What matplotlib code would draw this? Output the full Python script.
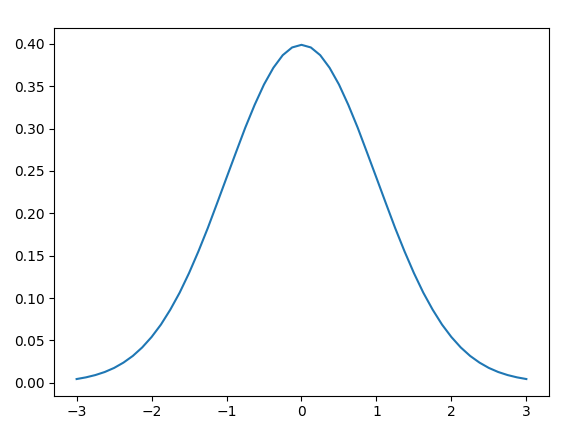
import matplotlib
matplotlib.use("Agg")
import matplotlib.pyplot as plt

x_vals = [i * 0.125 - 3 for i in range(49)]
half = [0.3989, 0.3958, 0.3867, 0.3718, 0.3521, 0.3280, 0.3011, 0.2717, 0.2420,
        0.2121, 0.1826, 0.1551, 0.1295, 0.1064, 0.0863, 0.0687, 0.0540, 0.0417,
        0.0317, 0.0238, 0.0175, 0.0127, 0.0091, 0.0064, 0.0044]
y_vals = half[::-1] + half[1:]

fig, ax = plt.subplots(figsize=(5.82, 4.26), dpi=100)
fig.subplots_adjust(left=0.093, right=0.943, top=0.934, bottom=0.071)
ax.plot(x_vals, y_vals)
fig.savefig("out.png")
